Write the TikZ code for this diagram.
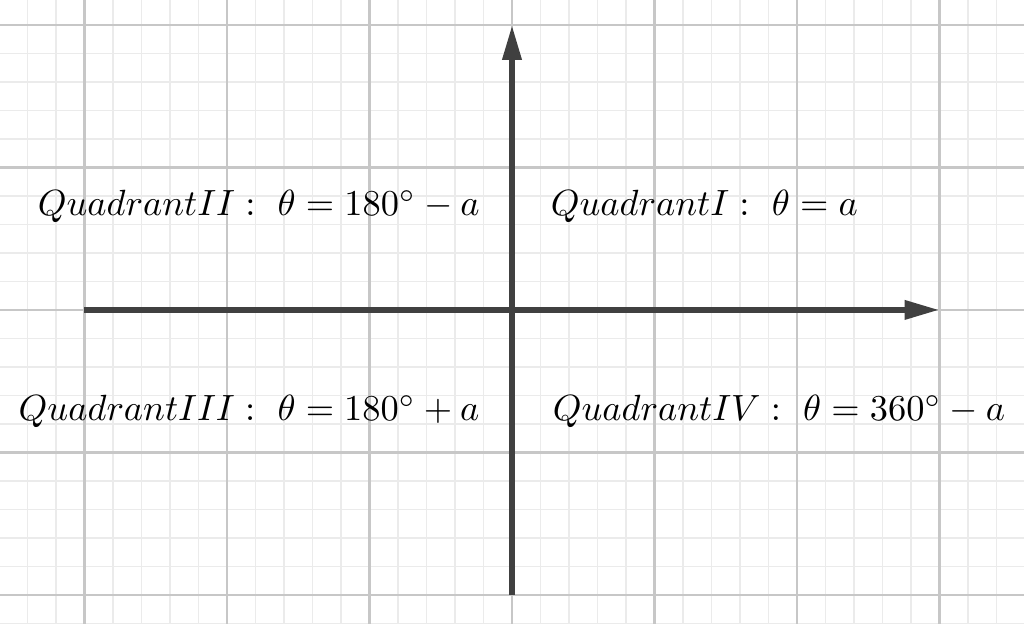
\documentclass[tikz,border=0pt]{standalone}
\usetikzlibrary{arrows.meta}
\begin{document}
\begin{tikzpicture}[x=1.374cm, y=1.374cm,
    axisline/.style={line width=1.65pt, draw=black!75, -{Triangle[length=9.6pt, width=5pt]}},
    quadlabel/.style={inner sep=0pt, anchor=base west, font=\normalsize}]
\useasboundingbox[fill=white] (-3.593, -2.2035) rectangle (3.593, 2.175);
\draw[line width=0.34pt, black!8] (-3.593, -2.2035) grid[step=0.2] (3.593, 2.175);
\draw[line width=0.62pt, black!22] (-3.593, -2.2035) grid[step=1] (3.593, 2.175);

\coordinate (xl) at (-3, 0);
\coordinate (xr) at (3, 0);
\coordinate (yb) at (0, -2);
\coordinate (yt) at (0, 2);
\draw[axisline] (xl) -- (xr);
\draw[axisline] (yb) -- (yt);

\node[quadlabel] (q1) at (0.267, 0.66) {$QuadrantI:\ \theta=a$};
\node[quadlabel] (q2) at (-3.333, 0.66) {$QuadrantII:\ \theta=180^\circ-a$};
\node[quadlabel] (q3) at (-3.467, -0.779) {$QuadrantIII:\ \theta=180^\circ+a$};
\node[quadlabel] (q4) at (0.281, -0.779) {$QuadrantIV:\ \theta=360^\circ-a$};
\end{tikzpicture}
\end{document}
